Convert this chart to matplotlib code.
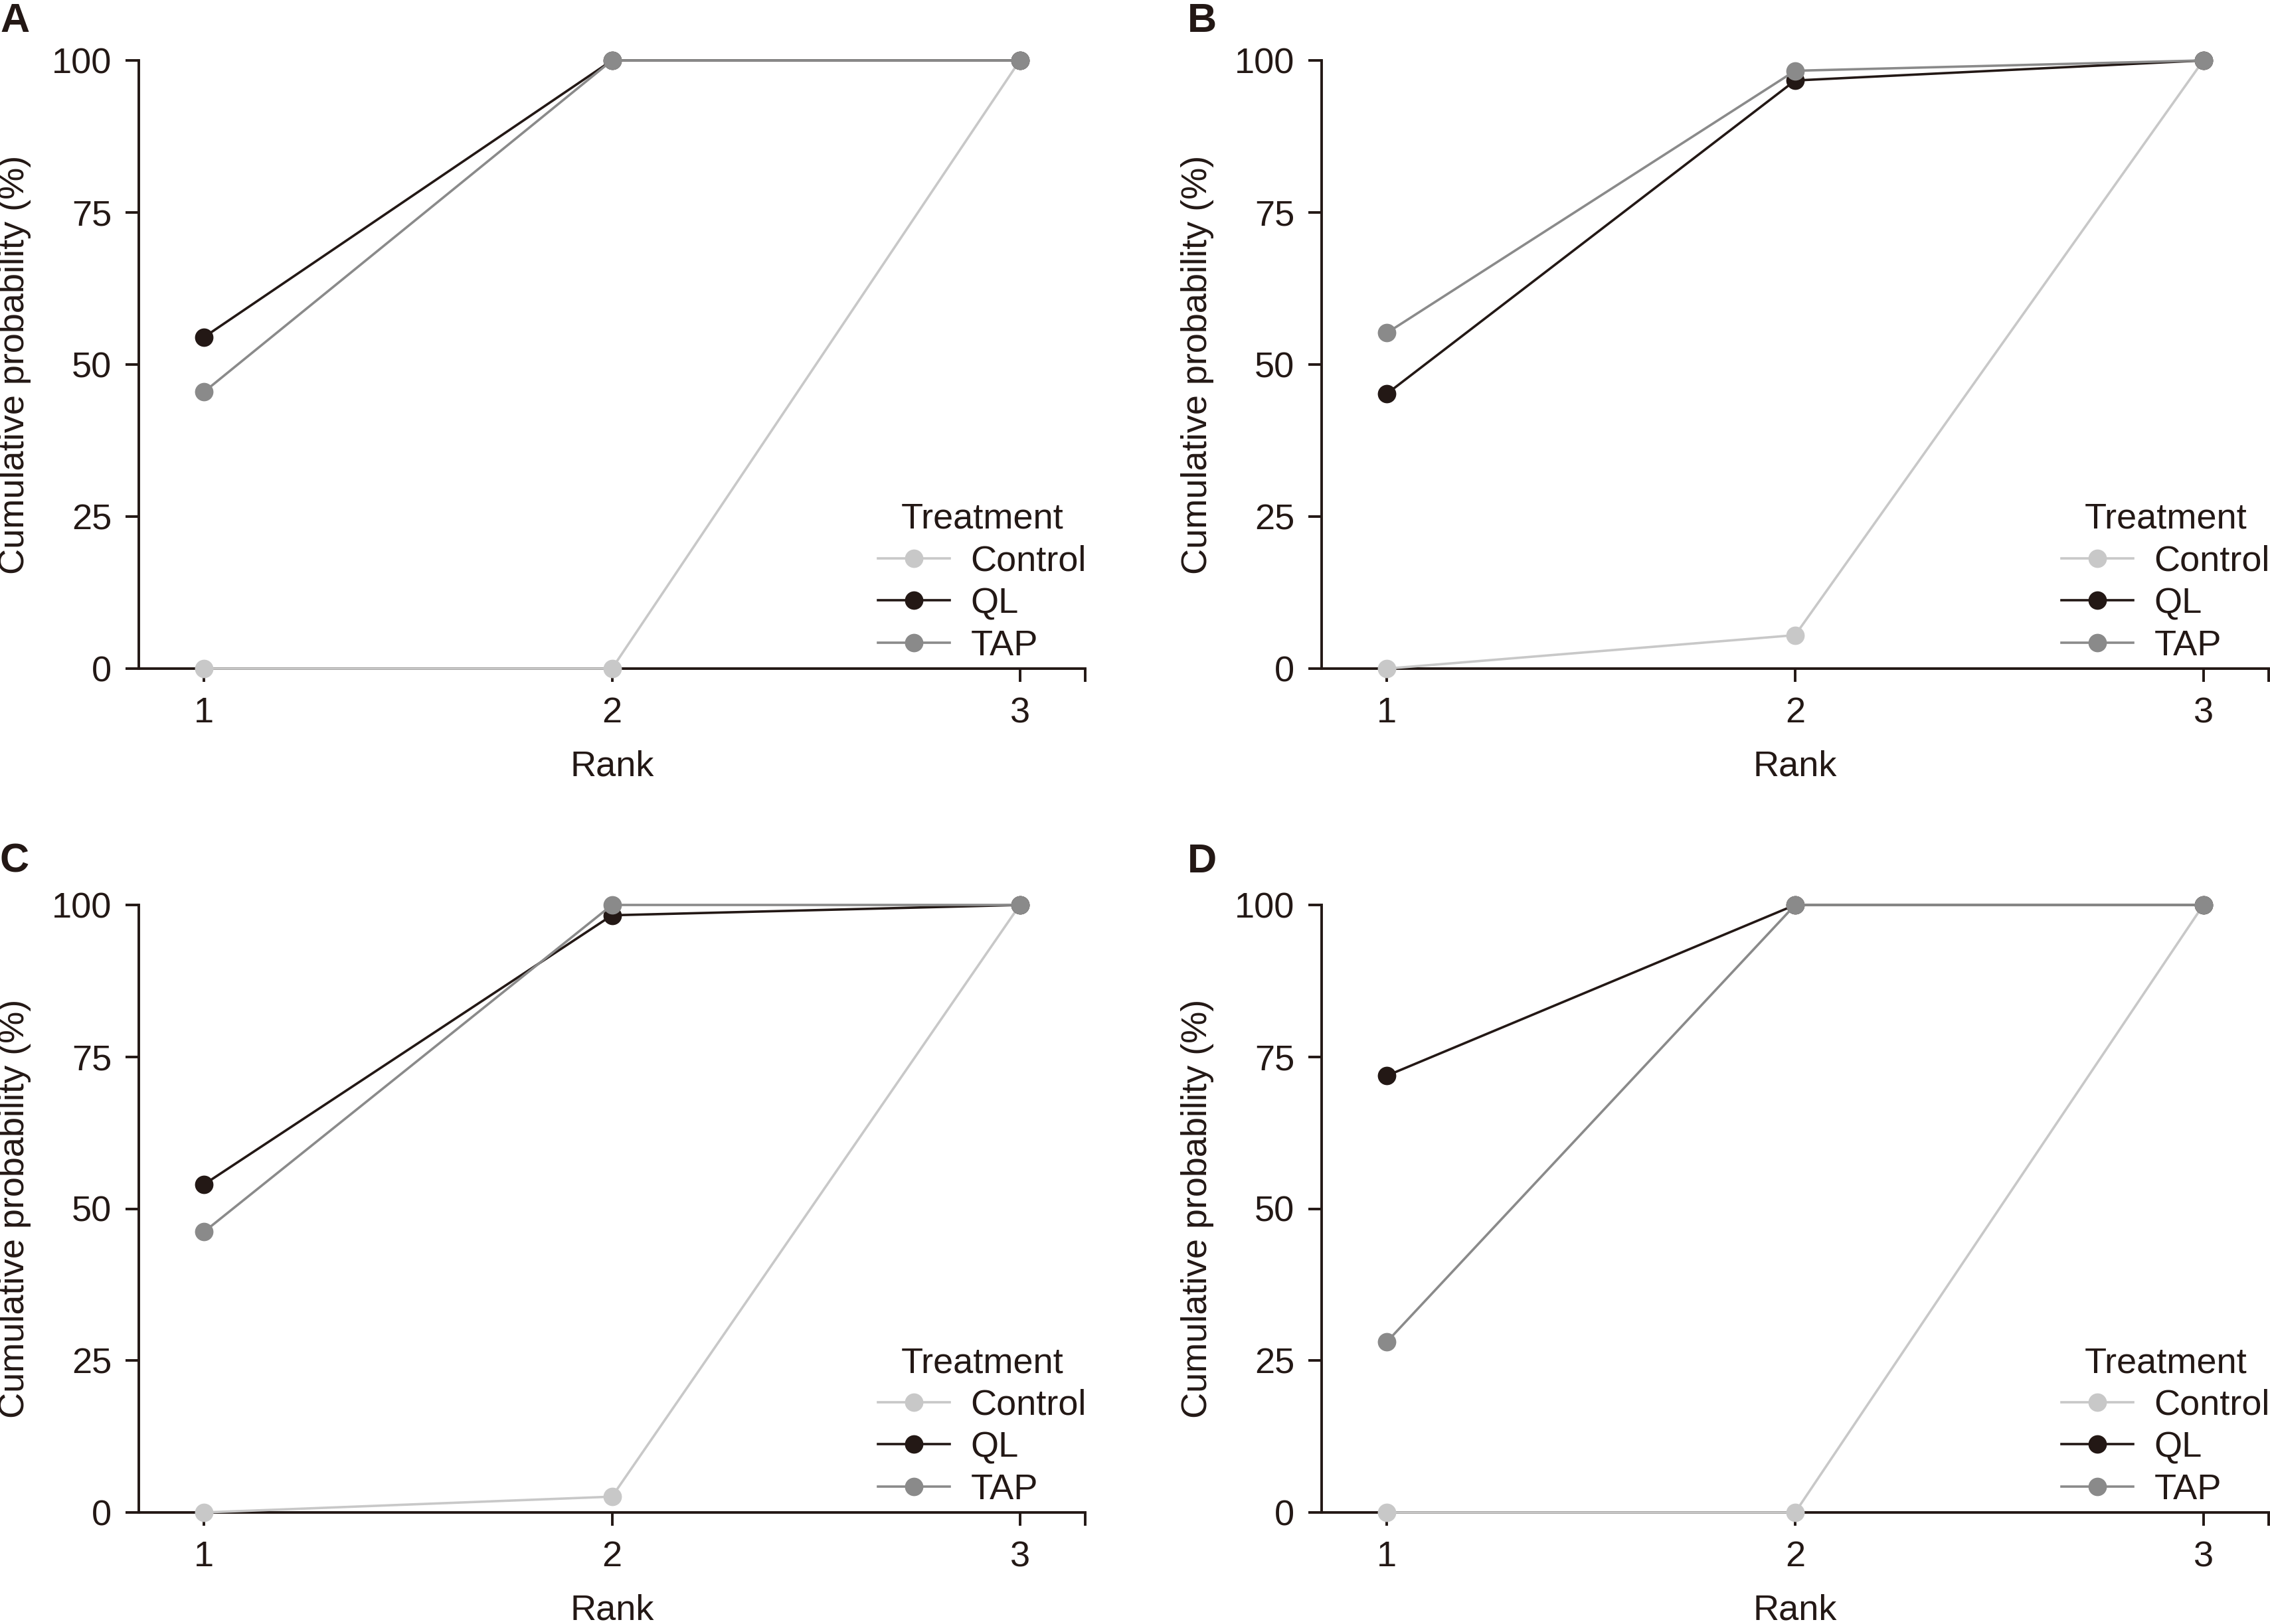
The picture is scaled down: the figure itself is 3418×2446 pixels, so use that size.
import numpy as np
import matplotlib
matplotlib.use("Agg")
import matplotlib.pyplot as plt

plt.rcParams['font.family'] = ['Liberation Sans', 'DejaVu Sans']

# Data: cumulative probability (%) per rank
ranks = [1, 2, 3]
treatments = ['Control', 'QL', 'TAP']
colors = {'Control': '#c8c8c8', 'QL': '#231815', 'TAP': '#8a8a8a'}

panel_a = {'Control': [0, 0, 100], 'QL': [54.5, 100, 100], 'TAP': [45.5, 100, 100]}
panel_b = {'Control': [0, 5.5, 100], 'QL': [45.2, 96.7, 100], 'TAP': [55.2, 98.3, 100]}
panel_c = {'Control': [0, 2.6, 100], 'QL': [54.0, 98.3, 100], 'TAP': [46.2, 100, 100]}
panel_d = {'Control': [0, 0, 100], 'QL': [71.9, 100, 100], 'TAP': [28.1, 100, 100]}

panels = [('A', panel_a), ('B', panel_b), ('C', panel_c), ('D', panel_d)]
yticks = [0, 25, 50, 75, 100]

W, H = 3418, 2446
fig = plt.figure(figsize=(W / 200, H / 200), dpi=200)

ink = '#231815'
fs = 19.5

# axes boxes in pixels: left, top, right, bottom
boxes = [(209, 91, 1634, 1007), (1990, 91, 3416, 1007),
         (209, 1363, 1634, 2278), (1990, 1363, 3416, 2278)]
letter_pos = [(0, 4), (1788, 4), (0, 1270), (1788, 1270)]

for (letter, data), (l, t, r, b), (lx, ly) in zip(panels, boxes, letter_pos):
    ax = fig.add_axes([l / W, 1 - b / H, (r - l) / W, (b - t) / H])
    for name in treatments:
        ax.plot(ranks, data[name], color=colors[name], lw=1.3, marker='o',
                ms=9, label=name, clip_on=False, zorder=3)
    ax.set_xlim(0.84, 3.16)
    ax.set_ylim(0, 100)
    ax.set_xticks(ranks)
    ax.set_xticks([3.16], minor=True)
    ax.set_yticks(yticks)
    for side in ['top', 'right']:
        ax.spines[side].set_visible(False)
    for side in ['left', 'bottom']:
        ax.spines[side].set_linewidth(1.4)
        ax.spines[side].set_color(ink)
    ax.tick_params(which='both', length=7.2, width=1.4, color=ink,
                   labelsize=fs, labelcolor=ink)
    ax.tick_params(axis='x', pad=8)
    ax.tick_params(axis='y', pad=7.5)
    ax.set_xlabel('Rank', fontsize=fs, color=ink, labelpad=11)
    ax.set_ylabel('Cumulative probability (%)', fontsize=fs, color=ink, labelpad=11)
    leg = ax.legend(title='Treatment', loc='upper left', bbox_to_anchor=(0.781, 0.273),
                    frameon=False, fontsize=fs, title_fontsize=fs,
                    handlelength=2.0, handletextpad=0.58, labelspacing=0.25,
                    borderpad=0, borderaxespad=0)
    for txt in leg.get_texts():
        txt.set_color(ink)
    leg.get_title().set_color(ink)
    fig.text(lx / W, 1 - ly / H, letter, fontsize=22, fontweight='bold',
             color=ink, ha='left', va='top')

fig.savefig('out.png', dpi=200)
